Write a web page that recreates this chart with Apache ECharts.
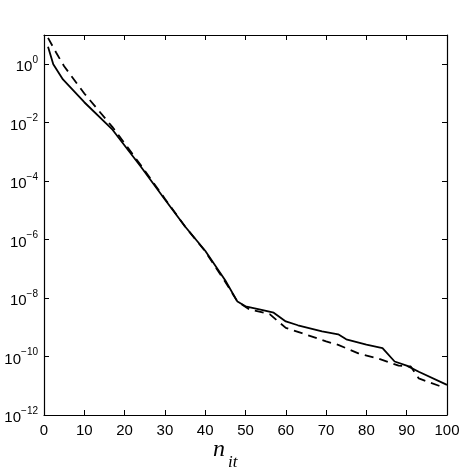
<!DOCTYPE html>
<html><head><meta charset="utf-8">
<script src="https://cdn.jsdelivr.net/npm/echarts@6/dist/echarts.min.js"></script>
<style>html,body{margin:0;padding:0;background:#fff}#c{width:474px;height:474px}</style>
</head><body><div id="c"></div>
<script>
// exponents (log10 of residual) vs iteration
const solidX = [1,2.3,4.7,10,17,24,30,35,40,45,48,50,54,57,60,63,69,73,75,80,84,87,90,93,100];
const solidY = [0.6,0,-0.52,-1.3,-2.24,-3.5,-4.63,-5.55,-6.38,-7.4,-8.12,-8.28,-8.4,-8.5,-8.8,-8.93,-9.14,-9.24,-9.41,-9.59,-9.71,-10.17,-10.31,-10.52,-10.97];
const dashX = [1,3,5,10,17,24,30,35,40,45,48,51,56,60,64,70,73,78,83,88,91,93,98,99];
const dashY = [0.9,0.4,-0.07,-1.0,-2.15,-3.45,-4.6,-5.55,-6.4,-7.45,-8.12,-8.39,-8.55,-9.02,-9.2,-9.48,-9.6,-9.89,-10.07,-10.31,-10.34,-10.75,-11.0,-11.05];
const xTicks = [0,10,20,30,40,50,60,70,80,90,100];
const yTickExps = [-12,-10,-8,-6,-4,-2,0];

const zip = (xs, ys) => xs.map((x, i) => [x, ys[i]]);
const chart = echarts.init(document.getElementById('c'));
const axisLine = {show:true, onZero:false, lineStyle:{color:'#000', width:1.2}};
const tick = {show:true, inside:true, length:5, lineStyle:{color:'#000'}};
chart.setOption({
  animation:false,
  grid:{left:44, top:35, right:27, bottom:59},
  xAxis:[
    {type:'value', min:0, max:100, interval:10, axisLine, axisTick:tick, splitLine:{show:false},
     axisLabel:{color:'#000', fontSize:15, fontFamily:'Liberation Sans', margin:8,
       formatter:v => xTicks.includes(v) ? String(v) : ''}},
    {type:'value', position:'top', min:0, max:100, interval:10, axisLine, axisTick:tick, axisLabel:{show:false}, splitLine:{show:false}}
  ],
  yAxis:[
    {type:'value', min:-12, max:1, interval:2, axisLine, axisTick:tick, splitLine:{show:false},
     axisLabel:{color:'#000', fontFamily:'Liberation Sans', margin:6,
       formatter:v => yTickExps.includes(v) ? '{b|10}{s|' + (v<0 ? '\u2212'+(-v) : v) + '}' : '',
       rich:{b:{fontSize:15, color:'#000', fontFamily:'Liberation Sans', padding:[6,0,0,0]},
             s:{fontSize:10, color:'#000', fontFamily:'Liberation Sans', padding:[0,0,8,0]}}}},
    {type:'value', position:'right', min:-12, max:1, interval:2, axisLine, axisTick:tick, axisLabel:{show:false}, splitLine:{show:false}}
  ],
  series:[
    {type:'line', data:zip(solidX, solidY), showSymbol:false, lineStyle:{color:'#000', width:1.8}},
    {type:'line', data:zip(dashX, dashY), showSymbol:false, lineStyle:{color:'#000', width:1.8, type:[9,6]}}
  ],
  graphic:[
    {type:'text', left:213, top:438, style:{text:'n', font:'italic 24px "Liberation Serif"', fill:'#000'}},
    {type:'text', left:228, top:454, style:{text:'it', font:'italic 17px "Liberation Serif"', fill:'#000'}}
  ]
});
</script></body></html>
